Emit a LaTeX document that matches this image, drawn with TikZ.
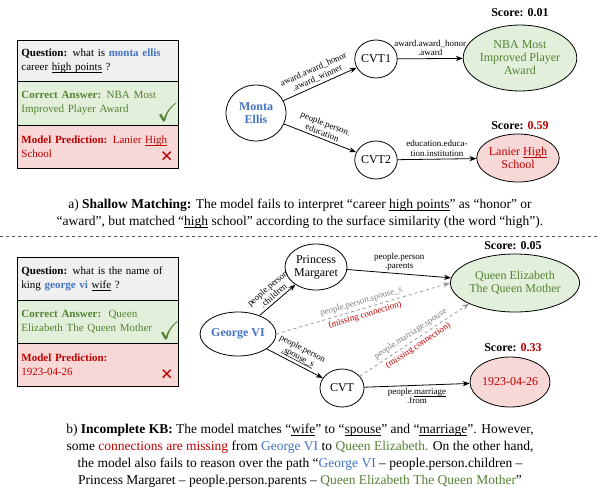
\documentclass[tikz,border=0pt]{standalone}
\usepackage{amssymb}
\usepackage{fontspec}
\setmainfont{Liberation Serif}
\usepackage{tikz}
\usetikzlibrary{arrows.meta,shapes.geometric}
\definecolor{qblue}{RGB}{68,114,196}
\definecolor{qgreen}{RGB}{84,130,53}
\definecolor{qred}{RGB}{192,0,0}
\definecolor{fgrey}{RGB}{240,240,240}
\definecolor{fgreen}{RGB}{226,239,218}
\definecolor{fred}{RGB}{248,215,215}
\newcommand\uln[1]{\setbox0\hbox{#1}\rlap{\rule[-1.6pt]{\wd0}{0.5pt}}\box0\relax}
\tikzset{
  ent/.style={draw,ellipse,thick,align=center,inner sep=0pt,font=\fontsize{12}{13}\selectfont},
  rel/.style={-{Stealth[length=7pt]},thick},
  miss/.style={-{Stealth[length=7pt]},thick,dashed,gray!80},
  lab/.style={sloped,font=\fontsize{9}{9.5}\selectfont,align=center,inner sep=2.5pt},
  box/.style={draw,thick,minimum width=161pt,text width=153pt,align=left,anchor=north west,font=\fontsize{11}{14}\selectfont,inner xsep=4pt,inner ysep=0pt},
  score/.style={font=\bfseries\fontsize{12}{13}\selectfont},
  captext/.style={font=\fontsize{13.5}{17}\selectfont,align=center}
}
\begin{document}
\begin{tikzpicture}[x=1pt,y=-1pt]
\useasboundingbox[fill=white] (0,0) rectangle (600,493);
% panel a
\node[box,fill=fgrey,minimum height=41pt] (qa) at (17,40) {\textbf{Question:} what is \textcolor{qblue}{\textbf{monta ellis}}\\career \uln{high points} ?};
\node[box,fill=fgreen,minimum height=44pt] (ca) at (17,81) {\textcolor{qgreen}{\textbf{Correct Answer:} NBA Most\\Improved Player Award}};
\node[box,fill=fred,minimum height=43pt] (pa) at (17,125) {\textcolor{qred}{\textbf{Model Prediction:} Lanier \uln{High}\\School}};
\node[text=qgreen,font=\fontsize{26}{26}\selectfont] (tka) at (168,112) {\checkmark};
\node[text=qred,font=\bfseries\fontsize{22}{22}\selectfont] (xa) at (167,158) {\texttimes};
\node[ent,minimum width=60pt,minimum height=56pt,text=qblue,font=\bfseries\fontsize{12}{13}\selectfont] (monta) at (256,113) {Monta\\Ellis};
\node[ent,minimum width=42pt,minimum height=38pt] (cvt1) at (376,59) {CVT1};
\node[ent,minimum width=42pt,minimum height=38pt] (cvt2) at (376,160) {CVT2};
\node[ent,minimum width=92pt,minimum height=66pt,fill=fgreen,text=qgreen] (nba) at (520,58) {NBA Most\\Improved Player\\Award};
\node[ent,minimum width=78pt,minimum height=48pt,fill=fred,text=qred] (lanier) at (518,158) {Lanier \uln{High}\\School};
\node[score] (sa1) at (520,13) {Score: 0.01};
\node[score] (sa2) at (520,126) {Score: \textcolor{qred}{0.59}};
\draw[rel] (monta) -- node[lab,above] {award.award\_honor\\.award\_winner} (cvt1);
\draw[rel] (monta) -- node[lab,above] {people.person.\\education} (cvt2);
\draw[rel] (cvt1) -- node[lab,above,sloped=false] {award.award\_honor\\.award} (nba);
\draw[rel] (cvt2) -- node[lab,above,sloped=false] {education.educa-\\tion.institution} (lanier);
\node[captext] (capa) at (300,214) {a) \textbf{Shallow Matching:} The model fails to interpret ``career \uln{high points}'' as ``honor'' or\\``award'', but matched ``\uln{high} school'' according to the surface similarity (the word ``high'').};
\coordinate (sl) at (0,236);
\coordinate (sr) at (600,236);
\draw[dashed,thick,gray!70!black] (sl) -- (sr);
% panel b
\node[box,fill=fgrey,minimum height=43pt] (qb) at (17,257) {\textbf{Question:} what is the name of\\king \textcolor{qblue}{\textbf{george vi}} \uln{wife} ?};
\node[box,fill=fgreen,minimum height=43pt] (cb) at (17,300) {\textcolor{qgreen}{\textbf{Correct Answer:}\ \ Queen\\Elizabeth The Queen Mother}};
\node[box,fill=fred,minimum height=43pt] (pb) at (17,343) {\textcolor{qred}{\textbf{Model Prediction:}\\1923-04-26}};
\node[text=qgreen,font=\fontsize{26}{26}\selectfont] (tkb) at (170,330) {\checkmark};
\node[text=qred,font=\bfseries\fontsize{22}{22}\selectfont] (xb) at (167,376) {\texttimes};
\node[ent,minimum width=74pt,minimum height=44pt,text=qblue,font=\bfseries\fontsize{12}{13}\selectfont] (george) at (238,334) {George VI};
\node[ent,minimum width=62pt,minimum height=46pt] (margaret) at (316,267) {Princess\\Margaret};
\node[ent,minimum width=44pt,minimum height=38pt] (cvt) at (342,388) {CVT};
\node[ent,minimum width=108pt,minimum height=58pt,fill=fgreen,text=qgreen] (queen) at (515,283) {Queen Elizabeth\\The Queen Mother};
\node[ent,minimum width=80pt,minimum height=50pt,fill=fred,text=qred] (date) at (510,382) {1923-04-26};
\node[score] (sb1) at (513,246) {Score: 0.05};
\node[score] (sb2) at (513,348) {Score: \textcolor{qred}{0.33}};
\draw[rel] (george) -- node[lab,above] {people.person\\.children} (margaret);
\draw[rel] (margaret) -- node[lab,above,sloped=false] {people.person\\.parents} (queen);
\draw[rel] (george) -- node[lab,above] {people.person\\\uln{.spouse\_s}} (cvt);
\draw[rel] (cvt) -- node[lab,below,sloped=false] {people.\uln{marriage}\\.from} (date);
\draw[miss] (george.east) -- node[lab,above,text=gray] {people.person.spouse\_s} node[lab,below,text=qred] {(missing connection)} (queen.west);
\draw[miss] (cvt) -- node[lab,above,text=gray] {people.marriage.spouse} node[lab,below,text=qred] {(missing connection)} (queen.south west);
\node[captext] (capb) at (300,456) {b) \textbf{Incomplete KB:} The model matches ``\uln{wife}'' to ``\uln{spouse}'' and ``\uln{marriage}''. However,\\some \textcolor{qred}{connections are missing} from \textcolor{qblue}{George VI} to \textcolor{qgreen}{Queen Elizabeth.} On the other hand,\\the model also fails to reason over the path ``\textcolor{qblue}{George VI} -- people.person.children --\\Princess Margaret -- people.person.parents -- \textcolor{qgreen}{Queen Elizabeth The Queen Mother}''};
\end{tikzpicture}
\end{document}
